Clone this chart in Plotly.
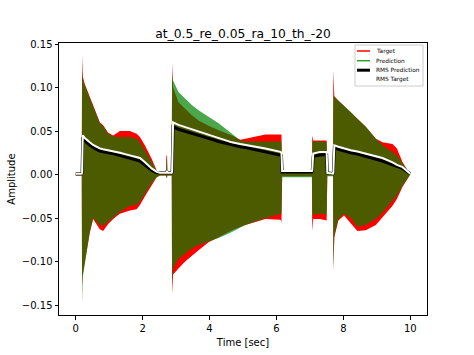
import plotly.graph_objects as go

# ---- data (envelopes of the waveforms, seconds / amplitude) ----
time_s = [0.00, 0.18, 0.19, 0.21, 0.27, 0.32, 0.42, 0.52, 0.57, 0.72, 0.82, 0.97, 1.12, 1.22,
          1.32, 1.62, 1.82, 1.92, 2.07, 2.27, 2.42, 2.52, 2.70, 2.71, 2.73, 2.74, 2.87, 2.88,
          2.91, 3.07, 3.27, 3.47, 3.67, 3.97, 4.27, 4.67, 4.92, 5.07, 5.67, 6.12, 6.15, 6.17,
          7.06, 7.07, 7.10, 7.30, 7.50, 7.52, 7.69, 7.70, 7.73, 7.85, 8.02, 8.22, 8.42, 8.67,
          8.97, 9.17, 9.47, 9.60, 9.77, 10.00]

target_upper = [0.001, 0.001, 0.137, 0.113, 0.104, 0.099, 0.088, 0.080, 0.074, 0.060, 0.0565, 0.048,
                0.045, 0.048, 0.050, 0.050, 0.047, 0.043, 0.0335, 0.018, 0.0046, 0.001, 0.001, 0.022,
                0.022, 0.001, 0.001, 0.128, 0.100, 0.083, 0.075, 0.068, 0.062, 0.056, 0.051, 0.045,
                0.040, 0.041, 0.046, 0.046, 0.046, 0.002, 0.002, 0.045, 0.039, 0.039, 0.039, 0.001,
                0.001, 0.120, 0.090, 0.085, 0.079, 0.072, 0.064, 0.055, 0.041, 0.037, 0.035, 0.030,
                0.014, 0.0]
target_lower = [-0.001, -0.001, -0.128, -0.115, -0.105, -0.090, -0.067, -0.051, -0.055, -0.063, -0.065,
                -0.057, -0.051, -0.048, -0.045, -0.0415, -0.040, -0.035, -0.025, -0.012, -0.003, -0.001,
                -0.001, -0.004, -0.004, -0.001, -0.001, -0.137, -0.115, -0.108, -0.100, -0.093, -0.087,
                -0.078, -0.072, -0.064, -0.060, -0.058, -0.051, -0.052, -0.055, -0.002, -0.002, -0.065,
                -0.051, -0.051, -0.053, -0.001, -0.001, -0.111, -0.072, -0.053, -0.047, -0.056, -0.065,
                -0.064, -0.058, -0.050, -0.036, -0.028, -0.014, 0.0]
pred_upper = [0.002, 0.002, 0.120, 0.110, 0.103, 0.098, 0.087, 0.079, 0.073, 0.059, 0.056, 0.047,
              0.044, 0.043, 0.043, 0.043, 0.041, 0.037, 0.028, 0.014, 0.004, 0.002, 0.002, 0.018,
              0.018, 0.002, 0.002, 0.114, 0.108, 0.095, 0.087, 0.080, 0.074, 0.066, 0.059, 0.047,
              0.039, 0.038, 0.038, 0.038, 0.037, 0.003, 0.003, 0.038, 0.038, 0.038, 0.037, 0.001,
              0.001, 0.092, 0.089, 0.085, 0.079, 0.072, 0.064, 0.055, 0.041, 0.034, 0.026, 0.022,
              0.013, 0.0]
pred_lower = [-0.001, -0.001, -0.148, -0.118, -0.104, -0.089, -0.066, -0.050, -0.052, -0.058, -0.059,
              -0.054, -0.049, -0.046, -0.043, -0.036, -0.035, -0.031, -0.022, -0.010, -0.003, -0.001,
              -0.001, -0.004, -0.004, -0.001, -0.001, -0.125, -0.108, -0.097, -0.091, -0.085, -0.081,
              -0.077, -0.073, -0.066, -0.061, -0.058, -0.050, -0.045, -0.045, -0.003, -0.003, -0.048,
              -0.046, -0.045, -0.046, -0.002, -0.002, -0.105, -0.070, -0.051, -0.045, -0.050, -0.060,
              -0.058, -0.051, -0.044, -0.030, -0.024, -0.013, 0.0]
rms_target = [0.001, 0.001, 0.002, 0.045, 0.042, 0.040, 0.037, 0.034, 0.033, 0.030, 0.029, 0.028,
              0.027, 0.026, 0.025, 0.022, 0.020, 0.019, 0.014, 0.007, 0.003, 0.002, 0.002, 0.004,
              0.004, 0.002, 0.002, 0.003, 0.060, 0.057, 0.0545, 0.052, 0.050, 0.046, 0.042, 0.037,
              0.035, 0.034, 0.030, 0.026, 0.025, 0.004, 0.004, 0.005, 0.024, 0.026, 0.026, 0.002,
              0.001, 0.002, 0.0335, 0.032, 0.030, 0.028, 0.0265, 0.024, 0.021, 0.019, 0.014, 0.011,
              0.0085, 0.001]
rms_prediction = [0.001, 0.001, 0.002, 0.043, 0.040, 0.037, 0.034, 0.031, 0.030, 0.027, 0.026, 0.025,
                  0.024, 0.023, 0.022, 0.019, 0.017, 0.0155, 0.011, 0.005, 0.002, 0.002, 0.002, 0.003,
                  0.003, 0.002, 0.002, 0.003, 0.055, 0.052, 0.0495, 0.047, 0.045, 0.0415, 0.038, 0.034,
                  0.032, 0.031, 0.026, 0.0225, 0.022, 0.003, 0.003, 0.004, 0.021, 0.0225, 0.023, 0.002,
                  0.001, 0.002, 0.031, 0.029, 0.027, 0.025, 0.0235, 0.021, 0.018, 0.0155, 0.011, 0.009,
                  0.007, 0.001]

series_names = ["Target", "Prediction", "RMS Prediction", "RMS Target"]
series_colors = ["red", "#2ca02c", "black", "white"]
title_text = "at_0.5_re_0.05_ra_10_th_-20"
x_ticks = [0, 2, 4, 6, 8, 10]
y_ticks = [-0.15, -0.10, -0.05, 0.00, 0.05, 0.10, 0.15]

FONT = "DejaVu Sans"
W, H = 474, 355
ML, MR, MT, MB = 59, 47, 43, 40
PW, PH = W - ML - MR, H - MT - MB

def px(x):
    return (x - ML) / PW

def py(y):
    return (H - MB - y) / PH

fig = go.Figure()

def envelope(upper, lower):
    return time_s + time_s[::-1], upper + lower[::-1]

ex, ey = envelope(target_upper, target_lower)
fig.add_trace(go.Scatter(x=ex, y=ey, fill="toself", fillcolor="rgb(255,0,0)", mode="lines",
                         line=dict(width=0, color="rgb(255,0,0)"), name=series_names[0],
                         showlegend=False, hoverinfo="skip"))
ex, ey = envelope(pred_upper, pred_lower)
fig.add_trace(go.Scatter(x=ex, y=ey, fill="toself", fillcolor="rgba(0,128,0,0.7)", mode="lines",
                         line=dict(width=0, color="rgba(0,128,0,0.7)"), name=series_names[1],
                         showlegend=False, hoverinfo="skip"))
fig.add_trace(go.Scatter(x=time_s, y=rms_prediction, mode="lines", line=dict(color="black", width=3),
                         name=series_names[2], showlegend=False, hoverinfo="skip"))
fig.add_trace(go.Scatter(x=time_s, y=rms_target, mode="lines", line=dict(color="white", width=2),
                         name=series_names[3], showlegend=False, hoverinfo="skip"))

# matplotlib-like compact legend (layout decoration)
shapes = [dict(type="rect", xref="paper", yref="paper", x0=px(355), x1=px(423), y0=py(86), y1=py(45),
               line=dict(color="#cccccc", width=1), fillcolor="rgba(255,255,255,0.8)", layer="above")]
annotations = []
row_y = [51, 60.7, 70.2, 80]
widths = [1.5, 1.5, 3, 1.5]
for name, color, w, ry in zip(series_names, series_colors, widths, row_y):
    shapes.append(dict(type="line", xref="paper", yref="paper", x0=px(357), x1=px(370),
                       y0=py(ry), y1=py(ry), line=dict(color=color, width=w), layer="above"))
    annotations.append(dict(text=name, xref="paper", yref="paper", x=px(374), y=py(ry),
                            xanchor="left", yanchor="middle", showarrow=False,
                            font=dict(family=FONT, size=5.8, color="black")))

axis_common = dict(showline=True, linecolor="black", linewidth=1, mirror=True, ticks="outside",
                   ticklen=3.5, tickwidth=1, tickcolor="black", showgrid=False, zeroline=False,
                   tickfont=dict(family=FONT, size=10, color="black"))

fig.update_layout(
    width=W, height=H,
    margin=dict(l=ML, r=MR, t=MT, b=MB, autoexpand=False),
    plot_bgcolor="white", paper_bgcolor="white",
    font=dict(family=FONT, color="black"),
    showlegend=False,
    title=dict(text=title_text, x=0.5, xref="paper", y=1 - 34 / H, yref="container",
               xanchor="center", yanchor="middle", font=dict(family=FONT, size=12.3, color="black")),
    xaxis=dict(range=[-0.5, 10.5], tickvals=x_ticks, ticktext=[str(v) for v in x_ticks],
               title=dict(text="Time [sec]", standoff=6, font=dict(family=FONT, size=10)),
               **axis_common),
    yaxis=dict(range=[-0.1615, 0.1512], tickvals=y_ticks,
               ticktext=[f"{v:.2f}".replace("-", "\u2212") for v in y_ticks],
               title=dict(text="Amplitude", standoff=4, font=dict(family=FONT, size=10)),
               **axis_common),
    shapes=shapes,
    annotations=annotations,
)

fig.write_html("out.html", config={"displayModeBar": False},
               post_script="document.body.style.margin='0px';")
